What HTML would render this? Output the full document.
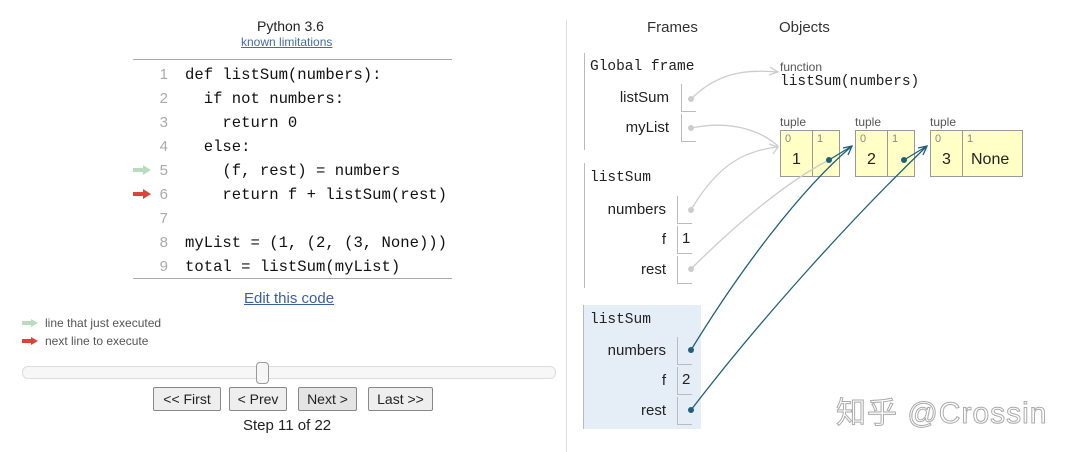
<!DOCTYPE html><html><head><style>
body{margin:0;width:1080px;height:452px;background:#fff;position:relative;overflow:hidden;font-family:"Liberation Sans",sans-serif;color:#222}
.a{position:absolute;white-space:nowrap}
.m{font-family:"Liberation Mono",monospace}
.ln{position:absolute;left:150px;width:18px;text-align:right;color:#aaa;font-family:"Liberation Sans",sans-serif;font-size:15px}
.cd{position:absolute;left:185px;font-family:"Liberation Mono",monospace;font-size:15.6px;color:#111;white-space:pre}
.btn{position:absolute;top:387px;height:22px;border:1px solid #888;border-radius:2px;background:#eee;font-size:14px;line-height:22px;text-align:center}
.var{position:absolute;font-size:15px;text-align:right;width:80px}
.vb{position:absolute;width:14px;height:27px;border-left:1px solid #bbb;border-bottom:1px solid #bbb}
.tl{position:absolute;font-size:12px;color:#555}
.tb{position:absolute;top:130px;height:47px;background:#ffffc6;border:1px solid #999;box-sizing:border-box}
.tc{position:absolute;top:0;height:100%;border-left:1px solid #999}
.ix{position:absolute;top:2px;left:4px;font-size:11px;color:#888}
.vv{position:absolute;top:20px;font-size:16px}
</style></head><body>
<div class="a" style="left:257px;top:18px;font-size:14px">Python 3.6</div>
<div class="a" style="left:241px;top:35px;font-size:12px;color:#4a6a9a;text-decoration:underline">known limitations</div>
<div class="a" style="left:133px;top:59px;width:319px;border-top:1px solid #aaa"></div>
<div class="a" style="left:133px;top:278px;width:319px;border-top:1px solid #aaa"></div>
<div style="position:absolute;top:66px;left:0">
<div class="ln" style="top:0">1</div><div class="cd" style="top:0">def listSum(numbers):</div>
<div class="ln" style="top:24px">2</div><div class="cd" style="top:24px">  if not numbers:</div>
<div class="ln" style="top:48px">3</div><div class="cd" style="top:48px">    return 0</div>
<div class="ln" style="top:72px">4</div><div class="cd" style="top:72px">  else:</div>
<div class="ln" style="top:96px">5</div><div class="cd" style="top:96px">    (f, rest) = numbers</div>
<div class="ln" style="top:120px">6</div><div class="cd" style="top:120px">    return f + listSum(rest)</div>
<div class="ln" style="top:144px">7</div>
<div class="ln" style="top:168px">8</div><div class="cd" style="top:168px">myList = (1, (2, (3, None)))</div>
<div class="ln" style="top:192px">9</div><div class="cd" style="top:192px">total = listSum(myList)</div>
</div>
<svg class="a" style="left:0;top:0" width="1080" height="452">
<path d="M133 170h11" stroke="#b8dcc0" stroke-width="4"/><path d="M143 165l8 5-8 5z" fill="#b8dcc0"/>
<path d="M133 194h11" stroke="#d9453a" stroke-width="4"/><path d="M143 189l8 5-8 5z" fill="#d9453a"/>
<path d="M22 323h10" stroke="#b8dcc0" stroke-width="4"/><path d="M31 319l7 4-7 4z" fill="#b8dcc0"/>
<path d="M22 341h10" stroke="#d9453a" stroke-width="4"/><path d="M31 337l7 4-7 4z" fill="#d9453a"/>
</svg>
<div class="a" style="left:244px;top:290px;font-size:15px;color:#3b5fa0;text-decoration:underline">Edit this code</div>
<div class="a" style="left:45px;top:316px;font-size:12px;color:#555">line that just executed</div>
<div class="a" style="left:45px;top:334px;font-size:12px;color:#555">next line to execute</div>
<div class="a" style="left:22px;top:366px;width:532px;height:11px;border:1px solid #ddd;border-radius:6px;background:#f7f7f7"></div>
<div class="a" style="left:256px;top:362px;width:11px;height:20px;border:1px solid #999;border-radius:4px;background:#f6f6f6"></div>
<div class="btn" style="left:153px;width:66px">&lt;&lt; First</div>
<div class="btn" style="left:229px;width:56px">&lt; Prev</div>
<div class="btn" style="left:298px;width:57px;background:#e4e4e4">Next &gt;</div>
<div class="btn" style="left:368px;width:63px">Last &gt;&gt;</div>
<div class="a" style="left:243px;top:417px;font-size:15px">Step 11 of 22</div>
<div class="a" style="left:566px;top:20px;height:432px;border-left:1px solid #ddd"></div>
<div class="a" style="left:647px;top:19px;font-size:15px;color:#333">Frames</div>
<div class="a" style="left:779px;top:19px;font-size:15px;color:#333">Objects</div>
<!-- global frame -->
<div class="a" style="left:584px;top:53px;height:97px;border-left:1px solid #bbb"></div>
<div class="a m" style="left:590px;top:59px;font-size:14.5px">Global frame</div>
<div class="var" style="left:589px;top:89px">listSum</div><div class="vb" style="left:681px;top:84px"></div>
<div class="var" style="left:589px;top:119px">myList</div><div class="vb" style="left:681px;top:114px"></div>
<!-- frame 2 -->
<div class="a" style="left:584px;top:163px;height:125px;border-left:1px solid #bbb"></div>
<div class="a m" style="left:590px;top:170px;font-size:14.5px">listSum</div>
<div class="var" style="left:586px;top:201px">numbers</div><div class="vb" style="left:677px;top:196px"></div>
<div class="var" style="left:586px;top:231px">f</div><div class="vb" style="left:677px;top:226px"></div><div class="a" style="left:682px;top:230px;font-size:15px">1</div>
<div class="var" style="left:586px;top:261px">rest</div><div class="vb" style="left:677px;top:256px"></div>
<!-- frame 3 -->
<div class="a" style="left:583px;top:305px;width:117px;height:124px;background:#e5edf7;border-left:1px solid #bbb"></div>
<div class="a m" style="left:590px;top:312px;font-size:14.5px">listSum</div>
<div class="var" style="left:586px;top:342px">numbers</div><div class="vb" style="left:677px;top:337px"></div>
<div class="var" style="left:586px;top:372px">f</div><div class="vb" style="left:677px;top:367px"></div><div class="a" style="left:682px;top:371px;font-size:15px">2</div>
<div class="var" style="left:586px;top:402px">rest</div><div class="vb" style="left:677px;top:397px"></div>
<!-- objects -->
<div class="tl" style="left:780px;top:60px">function</div>
<div class="a m" style="left:780px;top:74px;font-size:14.5px">listSum(numbers)</div>
<div class="tl" style="left:780px;top:115px">tuple</div>
<div class="tl" style="left:855px;top:115px">tuple</div>
<div class="tl" style="left:930px;top:115px">tuple</div>
<div class="tb" style="left:780px;width:60px"><span class="ix">0</span><span class="vv" style="left:11px">1</span><div class="tc" style="left:31px"><span class="ix">1</span></div></div>
<div class="tb" style="left:855px;width:60px"><span class="ix">0</span><span class="vv" style="left:11px">2</span><div class="tc" style="left:31px"><span class="ix">1</span></div></div>
<div class="tb" style="left:930px;width:93px"><span class="ix">0</span><span class="vv" style="left:11px">3</span><div class="tc" style="left:31px"><span class="ix">1</span><span class="vv" style="left:8px">None</span></div></div>
<svg class="a" style="left:0;top:0" width="1080" height="452" fill="none">
<g stroke="#ccc" stroke-width="1.3">
<path d="M691 99 C720 70 750 70 778 72"/><path d="M770 67l8 5-9 3" />
<path d="M691 128 C730 120 760 130 778 146"/><path d="M769 144l9 3-5 7"/>
<path d="M691 210 C720 160 750 150 778 147"/>
<path d="M691 269 C740 220 790 180 829 160"/>
</g>
<g fill="#ccc"><circle cx="691" cy="99" r="3"/><circle cx="691" cy="128" r="3"/><circle cx="691" cy="210" r="3"/><circle cx="691" cy="269" r="3"/></g>
<g stroke="#1f5f7a" stroke-width="1.3">
<path d="M829 160 L852 146"/><path d="M904 160 L927 146"/>
<path d="M691 350 C740 270 800 190 852 146"/>
<path d="M691 410 C760 320 850 220 927 146"/>
<path d="M843 148l9-2-4 9M918 148l9-2-4 9"/>
</g>
<g fill="#1f5f7a"><circle cx="829" cy="160" r="3"/><circle cx="904" cy="160" r="3"/><circle cx="691" cy="350" r="3"/><circle cx="691" cy="410" r="3"/></g>
</svg>
<div class="a" style="left:836px;top:388px;font-size:30px;color:#fff;-webkit-text-stroke:1px #aaa;font-family:'Liberation Sans','Noto Sans CJK SC',sans-serif;letter-spacing:1px">知乎 @Crossin</div>
</body></html>
